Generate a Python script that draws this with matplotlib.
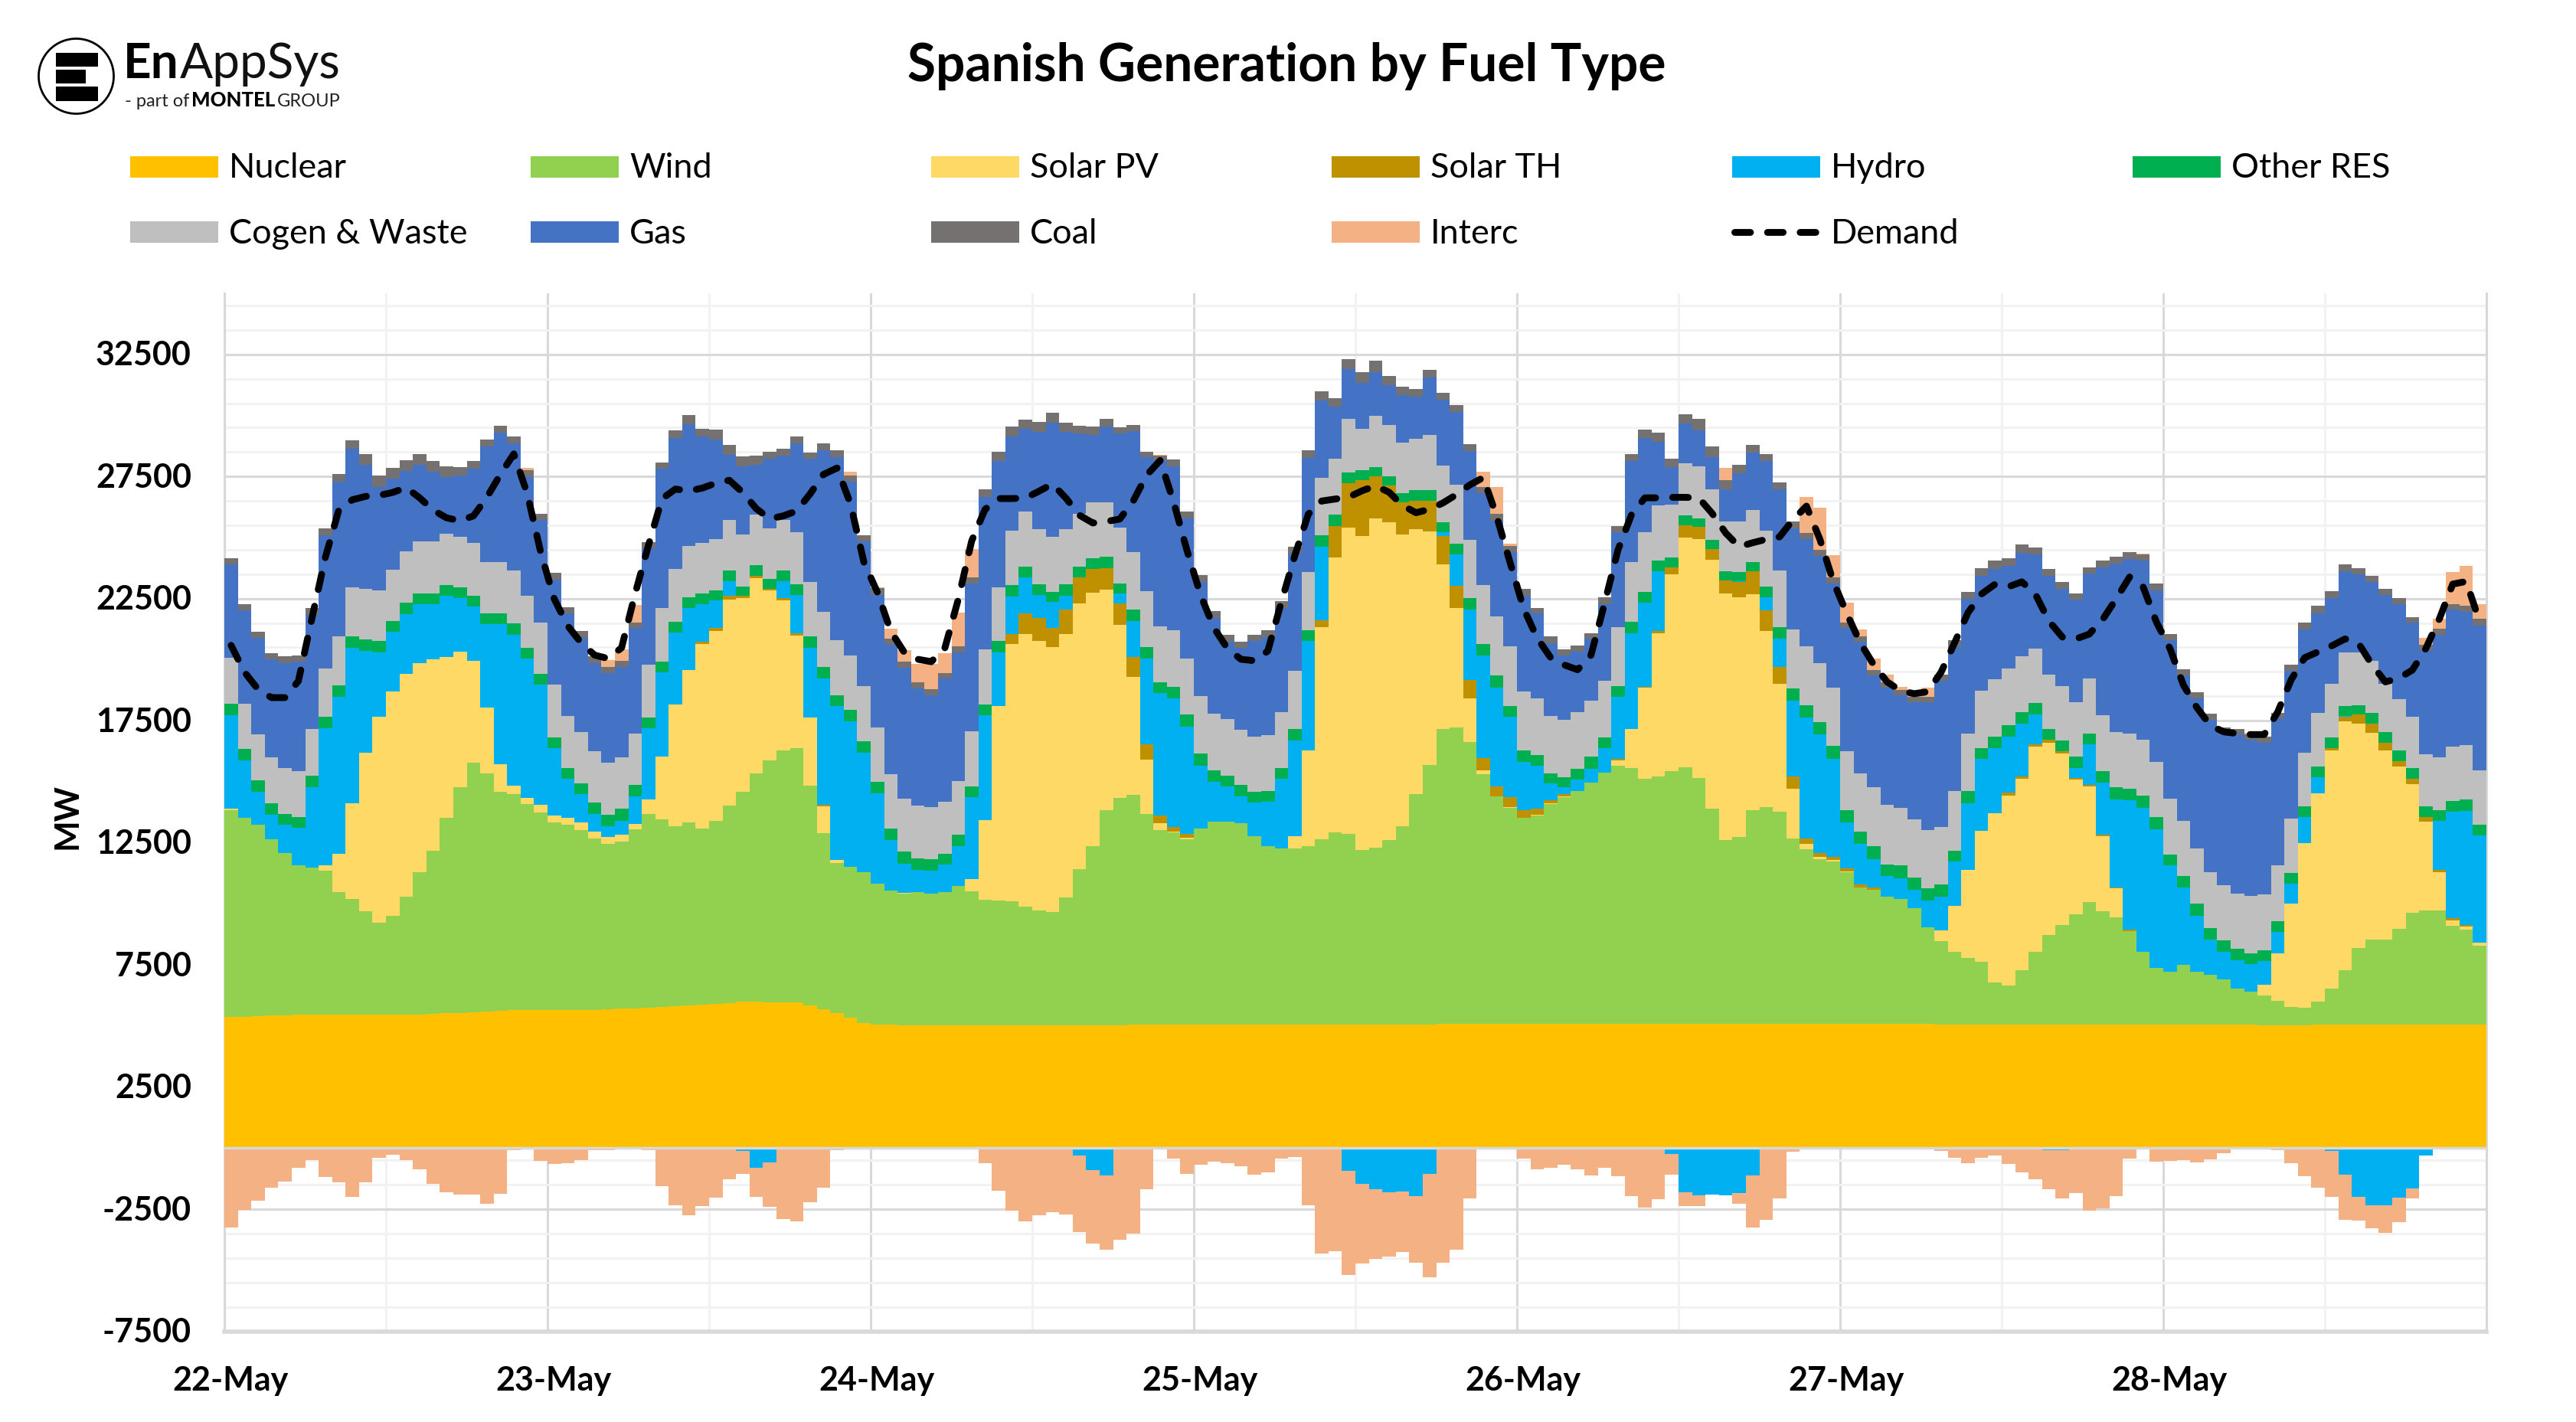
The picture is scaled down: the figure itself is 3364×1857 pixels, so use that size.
import numpy as np
import matplotlib
matplotlib.use("Agg")
import matplotlib.pyplot as plt
from matplotlib.patches import Circle, Rectangle
from matplotlib.lines import Line2D
from matplotlib.transforms import ScaledTranslation

plt.rcParams['font.family'] = ['Lato', 'DejaVu Sans']

# Hourly values, one row per day (22-May to 28-May).
# The *_top lists are the upper edge of each layer in the stack, in MW.
nuclear_top = [
    5385,5385,5400,5420,5430,5450,5470,5480,5480,5480,5480,5480,5480,5480,5480,5500,5520,5540,5570,5600,5620,5640,5650,5650,
    5650,5650,5650,5650,5670,5700,5730,5760,5790,5820,5850,5880,5910,5950,5985,5985,5960,5960,5980,5845,5685,5525,5325,5125,
    5060,5050,5040,5040,5040,5040,5040,5040,5040,5040,5040,5040,5040,5040,5040,5040,5040,5040,5040,5050,5050,5050,5050,5050,
    5050,5050,5050,5050,5050,5050,5050,5050,5050,5050,5060,5060,5060,5060,5060,5060,5060,5060,5080,5080,5080,5080,5080,5080,
    5080,5080,5080,5080,5080,5080,5080,5080,5080,5080,5080,5080,5080,5080,5080,5080,5080,5080,5080,5080,5080,5080,5080,5080,
    5080,5080,5080,5080,5080,5080,5080,5060,5060,5060,5060,5060,5060,5060,5060,5060,5060,5060,5060,5060,5060,5060,5060,5060,
    5060,5060,5060,5060,5060,5060,5060,5040,5040,5040,5040,5060,5060,5060,5060,5060,5060,5060,5060,5060,5060,5060,5060,5060,
]
wind_top = [
    13825,13525,13225,12645,12065,11585,11485,11345,10485,10185,9685,9225,9525,10285,11285,12185,13525,14785,15785,15345,14585,14485,14085,13745,
    13345,13245,13025,12685,12445,12565,13045,13685,13445,13165,13325,13085,13385,14025,14585,15345,15885,16285,16385,14825,12885,11685,11525,11285,
    10815,10535,10415,10495,10415,10495,10735,10515,10155,10135,10095,9895,9715,9655,10255,11415,12375,13835,14335,14455,13675,13015,12915,12655,
    13095,13355,13375,13315,12775,12375,12275,12255,12375,12635,12935,12855,12215,12315,12615,13175,14495,15695,17155,17235,16615,15315,14395,13915,
    13525,13605,14085,14365,14605,14965,15365,15665,15565,15125,15205,15445,15585,15165,13885,12625,12725,13845,13965,13765,12685,12225,11845,11725,
    11285,10685,10585,10285,10185,9825,9045,8485,8025,7785,7625,6785,6665,7285,8025,8725,9125,9585,10085,9685,9445,8885,8025,7385,
    7208,7516,7208,7098,6922,6526,6416,6262,6042,5778,5756,5998,6526,7296,8198,8528,8528,8968,9628,9738,9716,9100,8946,8286,
]
solar_pv_top = [
    13885,13525,13245,12645,12065,11585,11485,11585,12045,14125,16185,17665,18685,19425,19845,20025,20105,20325,19945,18045,15725,14845,14345,14045,
    13625,13525,13325,12965,12725,12845,13285,14285,16025,18165,19565,20625,21185,22465,22525,23345,22825,22425,20985,17645,14005,11785,11525,11285,
    10815,10535,10455,10455,10415,10495,10735,11005,13415,18115,20655,21035,20775,20515,21035,22315,22755,22855,21415,19295,15915,13315,12955,12695,
    13095,13355,13375,13315,12775,12375,12275,12755,16295,21335,24175,25415,25075,25775,25615,25135,25355,25235,23895,22115,18415,15455,14415,13955,
    13525,13645,14125,14405,14605,14965,15365,15865,17165,18845,21085,23485,24985,24945,24085,22725,22545,22685,21185,19025,14725,12445,11925,11785,
    11325,10685,10585,10285,10185,9825,9045,8925,9925,11385,12985,13725,14445,15125,16445,16585,16165,15085,14805,12785,10645,8805,8025,7385,
    7208,7516,7208,7098,6922,6526,6416,6702,7978,10002,12488,14512,16272,17482,17372,16998,16272,15612,14908,13368,11300,9320,9078,8418,
]
# solar thermal is a thickness on top of solar PV
solar_th = [
    0,0,0,0,0,0,0,0,0,0,0,0,0,0,0,0,0,0,0,0,0,0,0,0,
    0,0,0,0,0,0,0,0,0,0,0,100,100,140,80,80,60,100,100,0,40,0,0,0,
    0,0,0,0,0,0,0,0,0,0,400,860,920,780,1020,1040,960,900,900,800,620,300,200,160,
    0,0,0,0,0,0,0,0,0,280,1300,1820,2260,1720,1500,1320,1160,1280,1160,900,740,500,400,420,
    320,240,120,100,0,0,0,60,0,40,100,300,500,480,440,520,640,920,840,660,500,240,160,140,
    120,120,100,0,0,0,0,0,0,0,0,0,120,100,80,140,100,80,80,60,40,60,0,0,
    0,0,0,0,0,0,0,0,0,0,0,0,100,176,374,374,330,220,220,176,88,88,44,0,
]
hydro_top = [
    17725,15885,14585,13645,13225,13105,14785,17185,18485,20485,20365,20305,21145,21865,22285,22285,22625,22525,22165,21465,21445,21025,20045,18985,
    16365,15125,14505,13685,13185,13405,14405,17185,19485,21105,22105,22285,22425,23205,22585,23425,22885,23205,22645,20485,19225,18085,17485,16185,
    14515,12615,11655,11395,11355,11595,12375,14355,17715,20295,22595,23375,22655,22355,22615,23375,23715,23755,22695,21595,20035,18635,18415,17255,
    15655,14995,14795,14415,14155,14195,15115,16695,20755,24635,25475,27215,27355,27455,27115,26455,26515,26515,25215,24315,22055,20175,18855,17655,
    15825,15645,14925,14785,15085,15545,16385,18485,21085,22345,23605,23785,25485,25425,24525,23245,23225,23605,22565,20865,18325,17645,16945,15945,
    13345,12445,11845,11125,11045,10585,10125,10285,11725,14125,15925,16385,16845,17385,17765,16725,16265,15565,16525,14965,14285,14245,13945,13065,
    11586,10662,9518,8550,8022,7692,7538,7648,8858,10816,13544,15172,16360,17680,17746,17372,16602,15832,15128,13544,13390,13764,13808,12796,
]
other_res_top = [
    18185,16345,15045,14125,13685,13545,15245,17665,18945,20945,20825,20765,21585,22325,22725,22725,23065,22965,22625,21885,21885,21485,20485,19425,
    16825,15565,14945,14145,13645,13885,14865,17625,19925,21545,22545,22725,22825,23645,23005,23865,23305,23645,23085,20945,19705,18545,17945,16645,
    14995,13075,12135,11855,11815,12055,12835,14815,18175,20755,23055,23815,23095,22775,23095,23795,24155,24215,23115,22055,20515,19075,18875,17755,
    16155,15475,15255,14875,14595,14635,15555,17175,21215,25095,25935,27655,27755,27895,27515,26815,26935,26935,25615,24755,22535,20655,19355,18115,
    16285,16085,15345,15185,15525,16025,16825,18925,21545,22785,24045,24185,25905,25785,24905,23605,23585,24005,22985,21325,18825,18125,17445,16465,
    13825,12945,12365,11625,11565,11065,10625,10785,12185,14625,16385,16845,17325,17845,18225,17165,16685,16025,16985,15445,14765,14725,14445,13545,
    12026,11146,10002,9012,8506,8176,7978,8088,9298,11256,13984,15612,16800,18098,18142,17812,17042,16294,15568,13998,13822,14226,14270,13236,
]
cogen_top = [
    20085,18205,16925,16005,15565,15445,17165,19645,20965,22965,22885,22825,23685,24425,24845,24845,25145,25045,24765,24005,24005,23645,22625,21525,
    18965,17685,17045,16265,15765,15985,16985,19785,22105,23705,24665,24785,24925,25725,25125,25945,25385,25725,25225,23165,21945,20785,20185,18905,
    17215,15295,14295,14015,13955,14195,15015,17055,20435,22975,25275,26055,25335,25015,25335,25955,26435,26455,25395,24395,22815,21375,21195,20055,
    18495,17775,17555,17135,16835,16895,17855,19555,23595,27455,28215,29855,29455,29975,29595,28895,29055,29215,27955,27155,24915,23055,21755,20555,
    18685,18425,17685,17525,17865,18325,19145,21345,23985,25205,26325,26345,28025,27925,26965,25645,25665,26125,25285,23665,21225,20545,19865,18865,
    16245,15345,14765,14045,13945,13465,13025,13145,14605,16965,18725,19185,19625,20125,20465,19385,18925,18245,19225,17725,17025,16965,16725,15825,
    14292,13412,12268,11300,10750,10420,10310,10398,11586,13478,16184,17812,19022,20298,20298,19946,19022,18384,17658,16140,16008,16448,16492,15480,
]
gas_top = [
    23905,22025,20885,20025,19865,19905,21845,25105,27285,28645,27985,27065,27425,27725,27985,27685,27485,27525,27825,28725,29285,28845,27485,25705,
    23285,21885,20885,19865,19445,19685,21285,24545,27825,29085,29645,29125,29025,28385,27925,27985,28225,28365,28865,28225,28585,28285,27285,24845,
    22635,20595,19675,18815,18535,19215,20295,23115,26675,28135,29135,29435,29335,29715,29335,29255,29215,29555,29255,29355,28295,28155,27915,25775,
    23175,21695,20735,20495,20755,20915,22115,24355,28255,30615,30355,31895,31335,31775,31235,30815,30775,31555,30655,30155,28555,26815,25695,24395,
    22625,21885,20685,20185,20325,20845,22285,25205,28125,29065,28925,27885,29685,29385,28285,26985,27645,28485,28145,26985,25385,24945,24245,23125,
    21285,20725,19365,18845,18525,18245,18245,19145,20505,22485,23445,23725,23845,24365,24305,23445,22905,22445,23525,23765,23925,24125,24045,22825,
    20782,19352,18406,17548,16976,16932,16712,16602,17592,19550,21244,21904,22520,23620,23488,23180,22652,22278,21530,20386,21002,22058,21970,21398,
]
coal_top = [
    24165,22285,21145,20265,20125,20165,22105,25365,27585,28985,28425,27525,27865,28165,28425,28125,27905,27885,28125,29025,29565,29125,27765,25965,
    23565,22145,21165,20125,19685,19965,21525,24825,28085,29385,30025,29445,29425,28785,28325,28345,28525,28645,29125,28485,28845,28585,27545,25085,
    22915,20855,19915,19075,18795,19455,20555,23375,26975,28515,29535,29815,29735,30115,29695,29575,29535,29855,29515,29595,28515,28355,28195,26055,
    23455,21975,21015,20735,21015,21195,22395,24615,28575,30975,30715,32315,31755,32235,31615,31175,31095,31875,30915,30415,28815,27055,25955,24655,
    22885,22125,20965,20425,20585,21085,22545,25465,28425,29405,29285,28225,30045,29845,28725,27345,27965,28785,28405,27265,25645,25185,24485,23365,
    21525,20965,19585,19085,18765,18485,18485,19385,20785,22785,23745,24045,24145,24705,24585,23725,23185,22725,23785,24045,24205,24405,24305,23105,
    21046,19594,18670,17790,17218,17152,16932,16844,17812,19792,21508,22212,22806,23906,23730,23444,22894,22520,21750,20606,21266,22278,22212,21662,
]
# imports sit on top of coal
interc_import = [
    0,0,0,0,0,0,0,0,0,0,0,0,0,0,0,0,0,0,0,0,0,0,80,0,
    0,0,0,0,300,460,700,0,0,0,0,0,0,0,0,0,0,0,0,0,0,0,140,0,
    60,420,480,740,1020,800,1360,1160,0,0,0,0,0,0,0,0,0,0,0,0,0,20,0,0,
    0,0,0,0,0,0,0,0,0,0,0,0,0,0,0,0,0,0,0,0,0,640,1100,80,
    0,0,0,0,0,0,0,0,0,0,0,0,0,0,10,500,0,0,0,0,0,1460,1740,900,
    800,260,460,300,120,240,360,0,0,0,0,0,0,0,0,0,0,0,0,0,0,0,40,0,
    0,0,0,0,0,0,66,0,0,0,0,0,0,0,0,0,0,0,0,286,396,1298,1628,594,
]
# below zero: exports and pumping, as depth under the axis
interc_export = [
    3250,2540,2150,1620,1370,810,500,1180,1400,2000,1400,410,280,500,870,1460,1810,1900,1900,2280,1870,70,50,520,
    650,620,490,70,70,0,0,80,1560,2340,2750,2370,2030,1280,1060,2000,2400,2900,3000,2220,1620,70,0,0,
    0,0,0,0,0,0,0,0,620,1750,2560,3000,2750,2620,2720,3440,3910,4160,3750,3500,1680,50,430,1060,
    680,550,630,740,1090,990,430,370,2340,4320,4220,5190,4720,4540,4440,4250,4690,5290,4690,4160,2060,0,0,0,
    430,870,810,680,870,1120,810,1150,1960,2430,2090,1090,2370,2370,1900,1930,2280,3250,2940,2060,150,0,0,0,
    0,0,0,0,0,0,0,120,400,620,400,300,650,990,1280,1680,2060,1840,2560,2470,1960,430,0,550,
    520,490,590,460,210,50,0,0,70,620,1150,1620,2000,2940,2970,3280,3470,3030,2060,300,0,0,0,0,
]
hydro_pumping = [
    0,0,0,0,0,0,0,0,0,0,0,0,0,0,0,0,0,0,0,0,0,0,0,0,
    0,0,0,0,0,0,0,0,0,0,0,0,0,0,115,805,585,0,0,0,0,0,0,0,
    0,0,0,0,0,0,0,0,0,0,0,0,0,0,0,300,900,1120,0,0,0,0,0,0,
    0,0,0,0,0,0,0,0,0,0,0,930,1460,1680,1810,1780,1970,1060,0,0,0,0,0,0,
    0,0,0,0,0,0,0,0,0,0,0,240,1810,1930,1900,1930,1840,1120,0,0,0,0,0,0,
    0,0,0,0,0,0,0,0,0,0,0,0,0,0,0,80,80,0,0,0,0,0,0,0,
    0,0,0,0,0,0,0,0,0,0,0,0,120,1090,2000,2340,2340,2030,1650,300,0,0,0,0,
]
demand = [
    20585,19485,18785,18445,18445,19125,21685,24185,26125,26545,26685,26725,26845,27045,26625,26125,25805,25685,25885,26645,27585,28425,26785,24385,
    22485,21385,20685,20185,20045,20485,22685,24685,26585,26985,26905,27025,27225,27345,26845,26185,25765,25885,26085,26785,27585,27845,26385,23985,
    22755,21155,20295,20015,19915,20455,22455,24855,26155,26595,26595,26615,26895,27195,26615,25915,25595,25655,25755,26495,27555,28155,26455,24455,
    22655,21295,20455,20015,19955,20355,22355,24255,25955,26495,26575,26655,26915,27115,26855,26315,26015,26155,26415,26755,27155,27455,25855,23955,
    22085,20885,20085,19785,19585,20185,22285,24485,25925,26625,26625,26645,26645,26625,25985,25185,24625,24785,24925,25025,25725,26285,24925,23185,
    21885,20685,19785,19085,18725,18605,18685,19485,20685,21925,22685,23085,22985,23185,22685,21585,20925,20845,21045,21645,22485,23385,22985,21525,
    20452,18956,18032,17306,17042,16976,16932,16932,17856,19176,20078,20320,20562,20848,20672,19792,19088,19242,19572,20452,21662,23092,23202,21552,
]
day_labels = ['22-May', '23-May', '24-May', '25-May', '26-May', '27-May', '28-May']

colours = {
    'Nuclear': '#FFC000', 'Wind': '#92D050', 'Solar PV': '#FFD966', 'Solar TH': '#BF9000',
    'Hydro': '#00B0F0', 'Other RES': '#00B050', 'Cogen & Waste': '#BFBFBF', 'Gas': '#4472C4',
    'Coal': '#767171', 'Interc': '#F4B183',
}
legend_rows = [['Nuclear', 'Wind', 'Solar PV', 'Solar TH', 'Hydro', 'Other RES'],
               ['Cogen & Waste', 'Gas', 'Coal', 'Interc', 'Demand']]

W, H = 3364, 1857
fig = plt.figure(figsize=(W / 100, H / 100), dpi=100)
ax = fig.add_axes([293 / W, 1 - 1738.5 / H, (3247 - 293) / W, (1738.5 - 383) / H])


def fx(px):
    return px / W


def fy(py):
    return 1 - py / H


# stack edges, keep each one at or above the layer below
solar_pv_arr = np.maximum(solar_pv_top, wind_top)
solar_th_top = solar_pv_arr + np.array(solar_th)
hydro_arr = np.maximum(hydro_top, solar_th_top)
other_arr = np.maximum(other_res_top, hydro_arr)
cogen_arr = np.maximum(cogen_top, other_arr)
gas_arr = np.maximum(gas_top, cogen_arr)
coal_arr = np.maximum(coal_top, gas_arr)
interc_arr = coal_arr + np.array(interc_import)

edges = np.arange(len(demand) + 1)
layers = [('Interc', interc_arr), ('Coal', coal_arr), ('Gas', gas_arr), ('Cogen & Waste', cogen_arr),
          ('Other RES', other_arr), ('Hydro', hydro_arr), ('Solar TH', solar_th_top),
          ('Solar PV', solar_pv_arr), ('Wind', wind_top), ('Nuclear', nuclear_top)]
# tallest first, each one painted over the last so no seams show
for name, top in layers:
    ax.stairs(top, edges, baseline=0, fill=True, color=colours[name], linewidth=0, zorder=3)
ax.stairs(-np.array(interc_export), edges, baseline=0, fill=True, color=colours['Interc'], linewidth=0, zorder=3)
ax.stairs(-np.array(hydro_pumping), edges, baseline=0, fill=True, color=colours['Hydro'], linewidth=0, zorder=3)

ax.axhline(0, color='#D9D9D9', linewidth=2.5, zorder=4)

line, = ax.plot(edges[:-1] + 0.5, demand, color='black', linewidth=6.4, zorder=5,
                dashes=(2.3, 2.5), dash_capstyle='round', dash_joinstyle='round')

ax.set_xlim(0, 168)
ax.set_ylim(-7500, 35000)
ax.set_yticks(np.arange(-7500, 33000, 5000))
ax.set_yticks(np.arange(-7500, 35000, 1000), minor=True)
ax.set_xticks(np.arange(0, 169, 24))
ax.set_xticks(np.arange(12, 168, 24), minor=True)
ax.set_xticklabels(day_labels + [''], fontweight='bold', fontsize=31)
ax.set_yticklabels([str(v) for v in np.arange(-7500, 33000, 5000)], fontweight='bold', fontsize=31)
ax.tick_params(which='both', length=0)
ax.tick_params(axis='y', which='major', pad=31)
ax.tick_params(axis='x', which='major', pad=32)
shift = ScaledTranslation(8 / 100, 0, fig.dpi_scale_trans)
yshift = ScaledTranslation(0, 2 / 100, fig.dpi_scale_trans)
for lab in ax.get_xticklabels():
    lab.set_transform(lab.get_transform() + shift)
for lab in ax.get_yticklabels():
    lab.set_transform(lab.get_transform() + yshift)

ax.grid(True, which='major', color='#D9D9D9', linewidth=2.2, zorder=0)
ax.grid(True, which='minor', color='#F2F2F2', linewidth=2.2, zorder=0)
ax.set_axisbelow(True)
ax.spines['top'].set_visible(False)
for side in ['left', 'right']:
    ax.spines[side].set_color('#D9D9D9')
    ax.spines[side].set_linewidth(2.2)
ax.spines['bottom'].set_color('#D9D9D9')
ax.spines['bottom'].set_linewidth(4)

fig.text(fx(88), fy(1066), 'MW', rotation=90, ha='center', va='center', fontweight='bold', fontsize=31)
fig.text(fx(1680), fy(86), 'Spanish Generation by Fuel Type', ha='center', va='center',
         fontweight='bold', fontsize=48.7)

# legend laid out by hand, the columns are evenly spaced
for row, names in enumerate(legend_rows):
    ymid = 218 + row * 85
    for col, name in enumerate(names):
        x0 = 170 + col * 523
        if name == 'Demand':
            fig.add_artist(Line2D([fx(x0 + 3), fx(x0 + 113)], [fy(ymid), fy(ymid)], color='black', linewidth=6.4,
                                  dashes=(2.3, 2.5), dash_capstyle='round'))
        else:
            fig.add_artist(Rectangle((fx(x0), fy(ymid + 14)), 115 / W, 28 / H, facecolor=colours[name],
                                     edgecolor='none', transform=fig.transFigure))
        fig.text(fx(x0 + 129), fy(ymid + 2), name, ha='left', va='center', fontsize=32.4)

# logo
logo_ax = fig.add_axes([0, 0, 1, 1], facecolor='none')
logo_ax.set_xlim(0, W)
logo_ax.set_ylim(H, 0)
logo_ax.axis('off')
logo_ax.add_patch(Circle((99.5, 99.5), 49, facecolor='white', edgecolor='black', linewidth=2))
for x0, y0, w, h in [(73, 69, 55, 18), (73, 91, 39, 18), (73, 113, 55, 19)]:
    logo_ax.add_patch(Rectangle((x0, y0), w, h, facecolor='black', edgecolor='none'))
logo_ax.text(161, 102, 'En', fontweight='bold', fontsize=46, ha='left', va='baseline')
logo_ax.text(235, 102, 'AppSys', fontweight='normal', fontsize=46, ha='left', va='baseline', color='#111111')
logo_ax.text(163, 139, '- part of', fontsize=17, ha='left', va='baseline', color='#222222')
logo_ax.text(250, 139, 'MONTEL', fontweight='black', fontsize=18.5, ha='left', va='baseline')
logo_ax.text(362, 139, 'GROUP', fontsize=17, ha='left', va='baseline', color='#222222')

fig.savefig('out.png', dpi=100)
